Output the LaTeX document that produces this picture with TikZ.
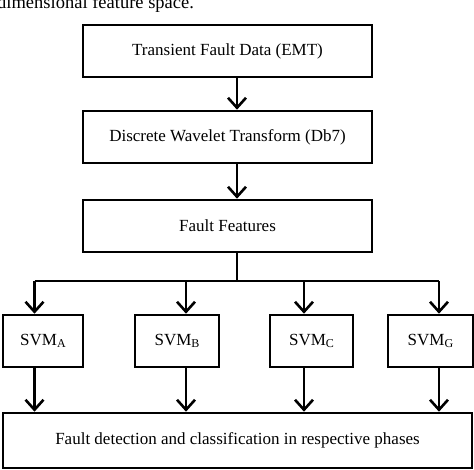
\documentclass[tikz,border=0pt]{standalone}
\usepackage{fontspec}
\setmainfont{Liberation Serif}
\usetikzlibrary{arrows.meta}

\newcommand{\phs}[1]{\raisebox{-1.5pt}{\fontsize{12}{12}\selectfont #1}}

\tikzset{
	blk/.style={draw, line width=2.6pt, minimum height=52pt, inner sep=0pt,
		font=\fontsize{17}{19}\selectfont},
	flow/.style={line width=2.6pt, -{Straight Barb[length=10pt,width=18pt,line width=2.6pt]}},
	wire/.style={line width=2.6pt}
}

\begin{document}
\begin{tikzpicture}[x=1pt,y=-1pt]
	\useasboundingbox (0,0) rectangle (474,469);
	\clip (0,0) rectangle (474,469);
	%\draw[help lines] (0,0) grid[step=50] (474,469);
	\node[anchor=base west, inner sep=0pt, font=\fontsize{18.5}{20}\selectfont] (cap) at (-3,8) {dimensional feature space.};
	% columns of the arrows
	\coordinate (spine) at (237,0);
	\coordinate (bus) at (0,281);
	\coordinate (colA) at (34.5,0);
	\coordinate (colB) at (186,0);
	\coordinate (colC) at (304,0);
	\coordinate (colG) at (439,0);
	\node[blk, minimum width=289pt] (emt) at (227.5,51) {Transient Fault Data (EMT)};
	\node[blk, minimum width=289pt] (dwt) at (227.5,137) {Discrete Wavelet Transform (Db7)};
	\node[blk, minimum width=289pt] (feat) at (227.5,226) {Fault Features};
	\node[blk, minimum width=80pt] (svmA) at (43,341) {SVM\phs{A}};
	\node[blk, minimum width=84pt] (svmB) at (177,341) {SVM\phs{B}};
	\node[blk, minimum width=83pt] (svmC) at (311.5,341) {SVM\phs{C}};
	\node[blk, minimum width=85pt] (svmG) at (430.5,341) {SVM\phs{G}};
	\node[blk, minimum width=469pt, minimum height=55pt] (out) at (237.5,440.5) {Fault detection and classification in respective phases};
	\draw[flow] (emt.south -| spine) -- (dwt.north -| spine);
	\draw[flow] (dwt.south -| spine) -- (feat.north -| spine);
	\draw[wire] (feat.south -| spine) -- (bus -| spine);
	\draw[wire] (bus -| colA) -- (bus -| colG);
	\foreach \c in {A,B,C,G} {
		\draw[flow] (bus -| col\c) -- (svm\c.north -| col\c);
		\draw[flow] (svm\c.south -| col\c) -- (out.north -| col\c);
	}
\end{tikzpicture}
\end{document}
